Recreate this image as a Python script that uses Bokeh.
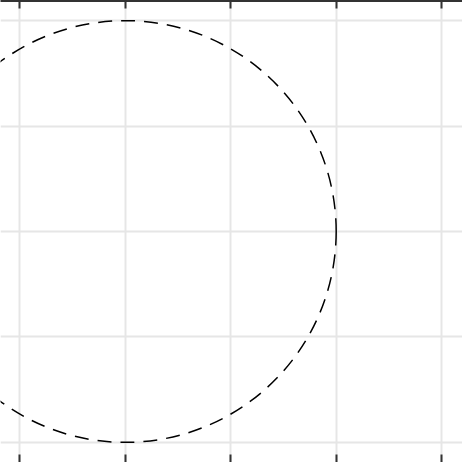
from bokeh.plotting import figure
from bokeh.models import LinearAxis, FixedTicker, Range1d
from bokeh.embed import file_html
from bokeh.resources import INLINE

# data
circle_x = [0.0]
circle_y = [0.0]
circle_r = [2.0]
x_ticks = [-1, 0, 1, 2, 3]
y_ticks = [-2, -1, 0, 1, 2]

p = figure(width=462, height=462, output_backend="svg", toolbar_location=None,
           x_range=Range1d(-1.184, 3.198), y_range=Range1d(-2.19, 2.19),
           x_axis_location=None, y_axis_location=None, min_border=0)
p.outline_line_color = None
p.background_fill_color = "white"
p.border_fill_color = "white"

for loc in ("above", "below"):
    ax = LinearAxis(ticker=FixedTicker(ticks=x_ticks))
    ax.major_label_text_font_size = "0pt"
    ax.major_label_standoff = 0
    ax.minor_tick_line_color = None
    ax.major_tick_in = 8
    ax.major_tick_out = 0
    ax.major_tick_line_color = "#333333"
    ax.major_tick_line_width = 2
    if loc == "above":
        ax.axis_line_color = "#333333"
        ax.axis_line_width = 3
    else:
        ax.axis_line_color = None
    p.add_layout(ax, loc)

p.xgrid.ticker = FixedTicker(ticks=x_ticks)
p.ygrid.ticker = FixedTicker(ticks=y_ticks)
p.grid.grid_line_color = "#e6e6e6"
p.grid.grid_line_width = 2

p.circle(x=circle_x, y=circle_y, radius=circle_r, fill_color=None,
         line_color="black", line_width=1.5, line_dash="14 9")

open("out.html", "w").write(file_html(p, INLINE))
